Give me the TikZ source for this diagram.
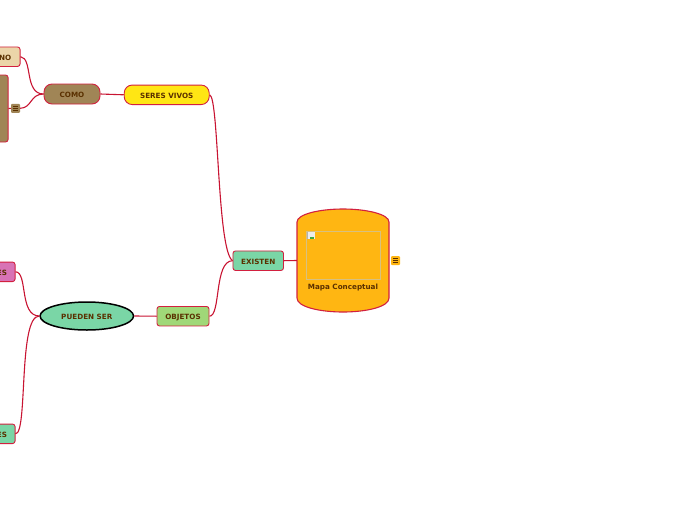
\documentclass[tikz,border=0pt]{standalone}
\usepackage{fontspec}
\setmainfont{DejaVu Sans}
\usetikzlibrary{shapes.geometric}
\definecolor{linkred}{HTML}{C81432}
\definecolor{edgered}{HTML}{D2203F}
\definecolor{inktext}{HTML}{5A3000}
\definecolor{brownfill}{HTML}{A08556}
\definecolor{mintfill}{HTML}{7AD6A6}
\definecolor{sandfill}{HTML}{EBD5A9}
\definecolor{pinkfill}{HTML}{D873B5}
\definecolor{limefill}{HTML}{A0D878}
\definecolor{yellowfill}{HTML}{FFE614}
\definecolor{amberfill}{HTML}{FFB612}
\definecolor{picframe}{HTML}{D8C080}
\tikzset{
  x=1pt,y=-1pt,
  link/.style={draw=linkred,line width=1.1pt},
  lettering/.style={text=inktext,font=\fontsize{7.2}{8}\selectfont\bfseries,text height=6.6pt,text depth=0pt},
  topic/.style={draw=edgered,line width=.9pt,rounded corners=2.5pt,inner sep=0pt,lettering},
  pill/.style={topic,rounded corners=8pt},
  cutoff/.style={topic,anchor=east,text width=32pt,align=right,minimum height=19.5pt,inner ysep=0pt},
  toggle/.style={inner sep=0pt,minimum width=9pt,minimum height=9pt,rounded corners=1pt},
  bars/.style={draw=inktext,line width=.55pt},
}
\begin{document}
\begin{tikzpicture}
\useasboundingbox (0,0) rectangle (696,520);
\clip (0,0) rectangle (696,520);
% main topic
\node[minimum width=92pt,minimum height=103pt,inner sep=0pt] (main) at (343,260.5) {};
\fill[amberfill,draw=edgered,line width=1.1pt]
  (297,222) .. controls (297,214) and (320,209) .. (343,209)
  .. controls (366,209) and (389,214) .. (389,222)
  -- (389,298) .. controls (389,307) and (366,312) .. (343,312)
  .. controls (320,312) and (297,307) .. (297,298) -- cycle;
\draw[draw=picframe,line width=.8pt] (306,231) rectangle (380.5,279);
\fill[white!85!gray] (307,232) rectangle (314.5,239);
\fill[gray!60] (307,232) rectangle (308.2,239);
\fill[green!55!black!75] (310,236.8) rectangle (314,239);
\node[inner sep=0pt,lettering] (maintext) at (343,286.3) {Mapa Conceptual};
\node[toggle,fill=amberfill] (maintoggle) at (395.5,260.5) {};
\draw[bars] (392.8,258.6) -- (398.2,258.6) (392.8,260.5) -- (398.2,260.5) (392.8,262.4) -- (398.2,262.4);
% topics
\node[topic,fill=mintfill,minimum width=50.5pt,minimum height=19.5pt] (existen) at (258.2,260.7) {EXISTEN};
\node[pill,fill=yellowfill,minimum width=85pt,minimum height=19.5pt] (seres) at (166.7,94.8) {SERES VIVOS};
\node[pill,fill=brownfill,minimum width=56pt,minimum height=20pt] (como) at (72,94) {COMO};
\node[topic,fill=limefill,minimum width=52pt,minimum height=19.5pt] (objetos) at (183,316.2) {OBJETOS};
\node[ellipse,draw=black,line width=1.5pt,fill=mintfill,inner sep=0pt,minimum width=93.5pt,minimum height=28pt,lettering] (pueden) at (86.8,316) {PUEDEN SER};
\node[cutoff,fill=sandfill,inner xsep=8.8pt] (no) at (20.5,56.7) {NO};
\node[topic,fill=brownfill,anchor=east,minimum width=30pt,minimum height=67pt] (pic) at (8.5,108.5) {};
\node[toggle,fill=brownfill] (pictoggle) at (15.5,108.3) {};
\draw[bars] (12.8,106.4) -- (18.2,106.4) (12.8,108.3) -- (18.2,108.3) (12.8,110.2) -- (18.2,110.2);
\node[cutoff,fill=pinkfill,inner xsep=8pt] (pink) at (15.5,271.8) {ES};
\node[cutoff,fill=mintfill,inner xsep=8pt] (green) at (15.5,433.8) {ES};
% connectors
\draw[link] (main.west) -- (existen.east);
\draw[link] (seres.east) .. controls (219,97) and (217,250) .. (existen.west);
\draw[link] (objetos.east) .. controls (221,316) and (214,261) .. (existen.west);
\draw[link] (seres.west) -- (como.east);
\draw[link] (objetos.west) -- (pueden.east);
\draw[link] (no.east) .. controls (33,58) and (24,94) .. (como.west);
\draw[link] (pictoggle.east) .. controls (32,108) and (30,94) .. (como.west);
\draw[link] (pic.east) -- (pictoggle.west);
\draw[link] (pink.east) .. controls (28,272) and (19,316) .. (pueden.west);
\draw[link] (green.east) .. controls (28,434) and (18,316) .. (pueden.west);
\end{tikzpicture}
\end{document}
